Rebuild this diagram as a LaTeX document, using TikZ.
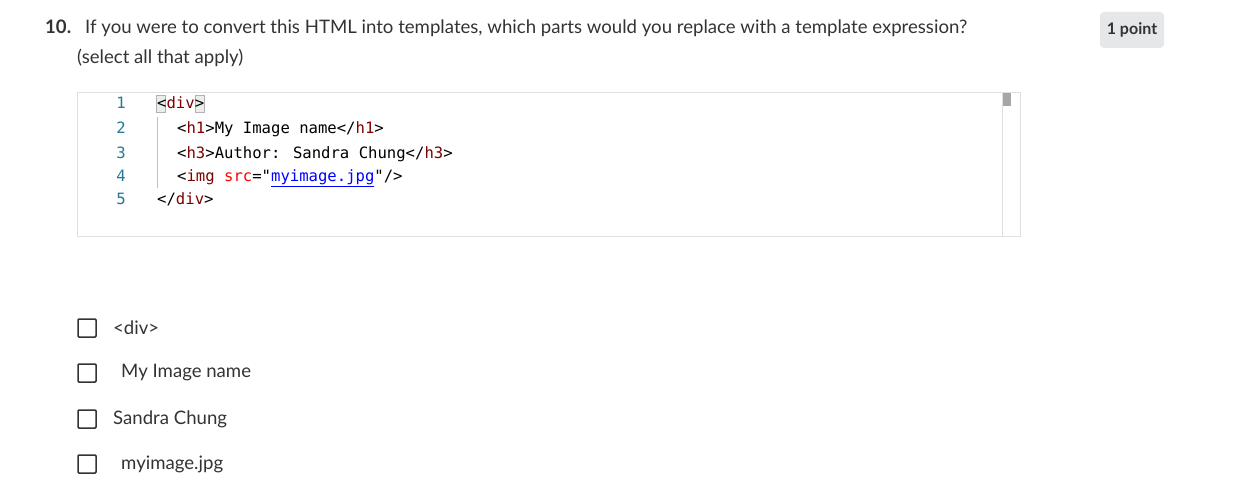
\documentclass[tikz,border=0pt]{standalone}
\usepackage{fontspec}
\setmainfont{Lato}
\newfontfamily\codefont{DejaVu Sans Mono}
\definecolor{txt}{HTML}{333333}
\definecolor{tag}{HTML}{800000}
\definecolor{attr}{HTML}{FF0000}
\definecolor{str}{HTML}{0000FF}
\definecolor{lnum}{HTML}{237893}
\definecolor{bord}{HTML}{E0E0E0}
\definecolor{badge}{HTML}{E5E7E8}
\tikzset{
  q/.style={anchor=base west, inner sep=0, font=\fontsize{18.6}{22}\selectfont, text=txt},
  code/.style={anchor=base west, inner sep=0, font=\codefont\fontsize{15.6}{18}\selectfont, text=black},
  num/.style={anchor=base east, inner sep=0, font=\codefont\fontsize{15.6}{18}\selectfont, text=lnum},
  cbox/.style={draw=txt, line width=1.5pt, minimum size=18pt, inner sep=0, rounded corners=1pt},
}
\begin{document}
\begin{tikzpicture}[x=1pt,y=-1pt]
\useasboundingbox (0,0) rectangle (1258,492);
\node[q, font=\bfseries\fontsize{18.6}{22}\selectfont] (n10) at (45,34) {10.};
\node[q] (t1) at (85,34) {If you were to convert this HTML into templates, which parts would you replace with a template expression?};
\node[q] (t2) at (77,64) {(select all that apply)};
\node[fill=badge, rounded corners=4pt, minimum width=64pt, minimum height=36pt, inner sep=0, font=\bfseries\fontsize{16}{18}\selectfont, text=txt] (pt) at (1132,30) {1 point};
% code box
\draw[bord, fill=white] (77,92) rectangle (1020,236);
\draw[bord] (1002,92) -- (1002,236);
\fill[gray!70] (1003,93) rectangle (1011,106);
\draw[black!25] (157,117) -- (157,188);
\fill[green!8!gray!15] (156,95) rectangle (165,112);
\draw[black!30] (156,95) rectangle (165,112);
\fill[green!8!gray!15] (195,95) rectangle (204,112);
\draw[black!30] (195,95) rectangle (204,112);
\foreach \i/\y in {1/109,2/134,3/158,4/181,5/204}
  \node[num] (ln\i) at (126,\y) {\i};
\node[code] (c1) at (157,109) {<\textcolor{tag}{div}>};
\node[code] (c2) at (177,134) {<\textcolor{tag}{h1}>My Image name</\textcolor{tag}{h1}>};
\node[code] (c3) at (177,158) {<\textcolor{tag}{h3}>Author: Sandra Chung</\textcolor{tag}{h3}>};
\node[code] (c4) at (177,181) {<\textcolor{tag}{img} \textcolor{attr}{src}="\textcolor{str}{\underline{myimage.jpg}}"/>};
\node[code] (c5) at (157,204) {</\textcolor{tag}{div}>};
% options
\foreach \i/\y/\dx/\lab in {1/328/113/{<div>},2/373/121/{My Image name},3/419/113/{Sandra Chung},4/464/121/{myimage.jpg}}{
  \node[cbox] (b\i) at (87,\y) {};
  \node[q, anchor=west] (o\i) at (\dx,\y) {\lab};
}
\end{tikzpicture}
\end{document}
